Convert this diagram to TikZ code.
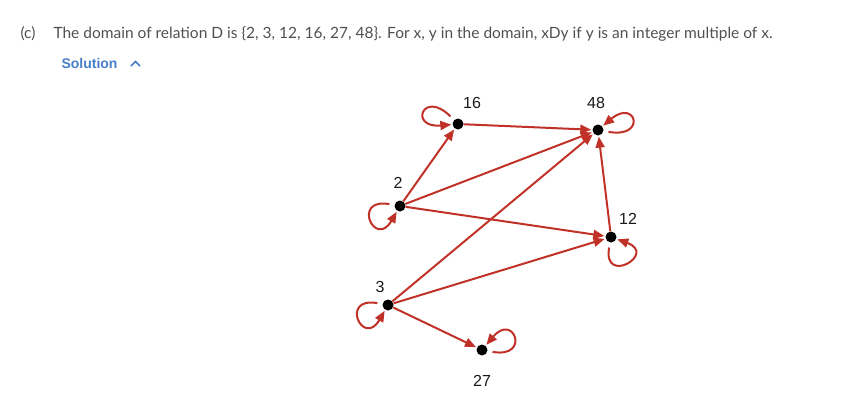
\documentclass[tikz,border=0pt]{standalone}
\usepackage{fontspec}
\setmainfont{Liberation Sans}
\newfontfamily\bodyfont{Lato}
\usetikzlibrary{arrows.meta}
\definecolor{edgered}{RGB}{192,50,40}
\definecolor{textgray}{RGB}{80,80,80}
\definecolor{solblue}{RGB}{72,126,200}
\tikzset{
  vertex/.style={circle,fill=black,inner sep=0pt,minimum size=11pt},
  vlabel/.style={font=\fontsize{16}{16}\selectfont,text=black!90},
  rel/.style={draw=edgered,line width=2pt,-{Triangle[length=11pt,width=9pt]},shorten >=1pt},
  every loop/.style={},
  selfloop/.style={rel,looseness=8,min distance=44pt,shorten <=5pt}
}
\begin{document}
\begin{tikzpicture}[x=1pt,y=-1pt]
    \useasboundingbox (0,0) rectangle (856,402);
    % header
    \node[anchor=base west,text=textgray,font=\bodyfont\fontsize{15.5}{18}\selectfont] (part) at (17,38) {(c)};
    \node[anchor=base west,text=textgray,font=\bodyfont\fontsize{15.5}{18}\selectfont] (question) at (50,38)
      {The domain of relation D is \{2, 3, 12, 16, 27, 48\}. For x, y in the domain, xDy if y is an integer multiple of x.};
    \node[anchor=base west,text=solblue,font=\bfseries\fontsize{14}{16}\selectfont] (solution) at (58,68) {Solution};
    \draw[solblue,line width=1.6pt] (131,66) -- (135.5,61.5) -- (140,66);
    % vertices
    \node[vertex] (n16) at (458,124) {};
    \node[vertex] (n48) at (598,130) {};
    \node[vertex] (n2) at (400,206) {};
    \node[vertex] (n12) at (611,237) {};
    \node[vertex] (n3) at (388,305) {};
    \node[vertex] (n27) at (482,350) {};
    % labels
    \node[vlabel] (l16) at (472,103) {16};
    \node[vlabel] (l48) at (596,103) {48};
    \node[vlabel] (l2) at (398,183) {2};
    \node[vlabel] (l12) at (628,219) {12};
    \node[vlabel] (l3) at (380,287) {3};
    \node[vlabel] (l27) at (482,381) {27};
    % relation
    \draw[rel] (n2) -- (n16);
    \draw[rel] (n2) -- (n48);
    \draw[rel] (n2) -- (n12);
    \draw[rel] (n16) -- (n48);
    \draw[rel] (n12) -- (n48);
    \draw[rel] (n3) -- (n48);
    \draw[rel] (n3) -- (n12);
    \draw[rel] (n3) -- (n27);
    % self loops
    \draw[selfloop] (n16) to[out=135,in=185] (n16);
    \draw[selfloop] (n48) to[out=-10,in=40] (n48);
    \draw[selfloop] (n2) to[out=170,in=240] (n2);
    \draw[selfloop] (n12) to[out=-100,in=-20] (n12);
    \draw[selfloop] (n3) to[out=170,in=240] (n3);
    \draw[selfloop] (n27) to[out=-10,in=50] (n27);
  \end{tikzpicture}
\end{document}
